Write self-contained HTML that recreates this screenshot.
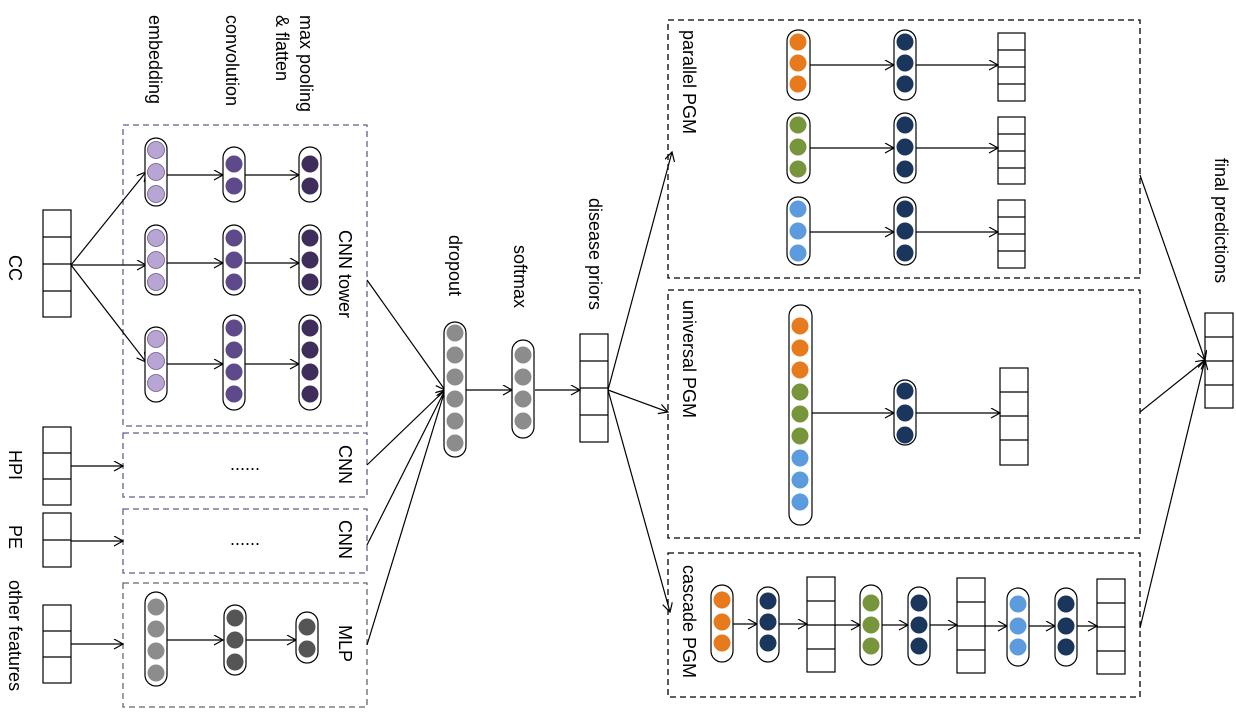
<!DOCTYPE html>
<html><head><meta charset="utf-8"><style>html,body{margin:0;padding:0;background:#fff}svg{display:block}text{font-family:"Liberation Sans",sans-serif;font-size:18px;fill:#000}circle{r:8.5px}</style></head><body>
<svg width="1236" height="719" viewBox="0 0 1236 719" xmlns="http://www.w3.org/2000/svg">
<defs><marker id="a" markerWidth="12" markerHeight="12" refX="10" refY="5" orient="auto" markerUnits="userSpaceOnUse"><path d="M1,0 L10,5 L1,10" fill="none" stroke="#000" stroke-width="1.2"/></marker></defs>
<g fill="none" stroke-dasharray="6,4" stroke-width="1.3">
<rect x="123" y="125" width="244" height="301" stroke="#6a5a8a"/>
<rect x="123" y="433" width="244" height="64" stroke="#6a5a8a"/>
<rect x="123" y="509" width="244" height="64" stroke="#6a5a8a"/>
<rect x="123" y="583" width="244" height="124" stroke="#666"/>
<rect x="668" y="20" width="472" height="258" stroke="#000"/>
<rect x="668" y="290" width="472" height="248" stroke="#000"/>
<rect x="668" y="553" width="472" height="144" stroke="#000"/>
</g>
<g fill="#fff" stroke="#000" stroke-width="1.2">
<rect x="43" y="210" width="28" height="107"/><line x1="43" y1="237" x2="71" y2="237"/><line x1="43" y1="264" x2="71" y2="264"/><line x1="43" y1="291" x2="71" y2="291"/>
<rect x="43" y="427" width="28" height="78"/><line x1="43" y1="453" x2="71" y2="453"/><line x1="43" y1="479" x2="71" y2="479"/>
<rect x="43" y="513" width="28" height="54"/><line x1="43" y1="540" x2="71" y2="540"/>
<rect x="43" y="605" width="28" height="78"/><line x1="43" y1="631" x2="71" y2="631"/><line x1="43" y1="657" x2="71" y2="657"/>
<rect x="580" y="334" width="28" height="108"/><line x1="580" y1="361" x2="608" y2="361"/><line x1="580" y1="388" x2="608" y2="388"/><line x1="580" y1="415" x2="608" y2="415"/>
<rect x="998" y="33" width="27" height="68"/><line x1="998" y1="50" x2="1025" y2="50"/><line x1="998" y1="67" x2="1025" y2="67"/><line x1="998" y1="84" x2="1025" y2="84"/>
<rect x="998" y="117" width="27" height="67"/><line x1="998" y1="134" x2="1025" y2="134"/><line x1="998" y1="151" x2="1025" y2="151"/><line x1="998" y1="168" x2="1025" y2="168"/>
<rect x="998" y="200" width="27" height="68"/><line x1="998" y1="217" x2="1025" y2="217"/><line x1="998" y1="234" x2="1025" y2="234"/><line x1="998" y1="251" x2="1025" y2="251"/>
<rect x="1000" y="368" width="28" height="97"/><line x1="1000" y1="392" x2="1028" y2="392"/><line x1="1000" y1="416" x2="1028" y2="416"/><line x1="1000" y1="440" x2="1028" y2="440"/>
<rect x="807" y="577" width="28" height="95"/><line x1="807" y1="601" x2="835" y2="601"/><line x1="807" y1="625" x2="835" y2="625"/><line x1="807" y1="649" x2="835" y2="649"/>
<rect x="957" y="578" width="28" height="95"/><line x1="957" y1="602" x2="985" y2="602"/><line x1="957" y1="626" x2="985" y2="626"/><line x1="957" y1="650" x2="985" y2="650"/>
<rect x="1097" y="579" width="28" height="95"/><line x1="1097" y1="603" x2="1125" y2="603"/><line x1="1097" y1="627" x2="1125" y2="627"/><line x1="1097" y1="651" x2="1125" y2="651"/>
<rect x="1205" y="313" width="28" height="95"/><line x1="1205" y1="337" x2="1233" y2="337"/><line x1="1205" y1="361" x2="1233" y2="361"/><line x1="1205" y1="385" x2="1233" y2="385"/>
</g>
<g stroke="#000" stroke-width="1.2" fill="none" marker-end="url(#a)">
<line x1="71" y1="265" x2="146" y2="172"/><line x1="71" y1="265" x2="146" y2="265"/><line x1="71" y1="265" x2="146" y2="362"/>
<line x1="167" y1="175" x2="223" y2="175"/><line x1="245" y1="175" x2="299" y2="175"/>
<line x1="167" y1="263" x2="223" y2="263"/><line x1="245" y1="263" x2="299" y2="263"/>
<line x1="167" y1="364" x2="223" y2="364"/><line x1="245" y1="364" x2="299" y2="364"/>
<line x1="71" y1="466" x2="123" y2="466"/><line x1="71" y1="541" x2="123" y2="541"/><line x1="71" y1="644" x2="123" y2="644"/>
<line x1="167" y1="640" x2="223" y2="640"/><line x1="246" y1="640" x2="296" y2="640"/>
<line x1="367" y1="280" x2="445" y2="390"/><line x1="367" y1="465" x2="445" y2="390"/><line x1="367" y1="545" x2="445" y2="390"/><line x1="367" y1="645" x2="445" y2="390"/>
<line x1="466" y1="390" x2="512" y2="390"/><line x1="535" y1="390" x2="580" y2="390"/>
<line x1="608" y1="390" x2="672" y2="152"/><line x1="608" y1="390" x2="668" y2="412"/><line x1="608" y1="390" x2="670" y2="612"/>
<line x1="810" y1="65" x2="894" y2="65"/><line x1="916" y1="65" x2="998" y2="65"/>
<line x1="810" y1="148" x2="894" y2="148"/><line x1="916" y1="148" x2="998" y2="148"/>
<line x1="810" y1="232" x2="894" y2="232"/><line x1="916" y1="232" x2="998" y2="232"/>
<line x1="812" y1="413" x2="894" y2="413"/><line x1="916" y1="413" x2="1000" y2="413"/>
<line x1="733" y1="624" x2="757" y2="624"/><line x1="779" y1="624" x2="807" y2="624"/><line x1="835" y1="625" x2="860" y2="625"/><line x1="882" y1="625" x2="908" y2="625"/><line x1="930" y1="625" x2="957" y2="625"/><line x1="985" y1="626" x2="1007" y2="626"/><line x1="1029" y1="626" x2="1055" y2="626"/><line x1="1077" y1="626" x2="1097" y2="626"/>
<line x1="1140" y1="175" x2="1205" y2="360"/><line x1="1140" y1="412" x2="1205" y2="360"/><line x1="1140" y1="628" x2="1205" y2="360"/>
</g>
<g fill="#fff" stroke="#000" stroke-width="1.2">
<rect x="145" y="138" width="22" height="68" rx="11"/><rect x="145" y="225" width="22" height="70" rx="11"/><rect x="145" y="327" width="22" height="75" rx="11"/>
<rect x="223" y="147" width="22" height="55" rx="11"/><rect x="223" y="225" width="22" height="70" rx="11"/><rect x="223" y="315" width="22" height="95" rx="11"/>
<rect x="299" y="147" width="22" height="55" rx="11"/><rect x="299" y="225" width="22" height="70" rx="11"/><rect x="299" y="315" width="22" height="95" rx="11"/>
<rect x="145" y="592" width="22" height="94" rx="11"/><rect x="224" y="605" width="22" height="70" rx="11"/><rect x="296" y="612" width="22" height="51" rx="11"/>
<rect x="444" y="322" width="22" height="135" rx="11"/><rect x="512" y="340" width="22" height="98" rx="11"/>
<rect x="787" y="30" width="23" height="70" rx="11"/><rect x="894" y="30" width="22" height="70" rx="11"/>
<rect x="787" y="113" width="23" height="70" rx="11"/><rect x="894" y="113" width="22" height="70" rx="11"/>
<rect x="787" y="197" width="23" height="68" rx="11"/><rect x="894" y="197" width="22" height="68" rx="11"/>
<rect x="789" y="305" width="23" height="220" rx="11"/><rect x="894" y="380" width="22" height="65" rx="11"/>
<rect x="711" y="585" width="22" height="77" rx="11"/><rect x="757" y="587" width="22" height="75" rx="11"/>
<rect x="860" y="585" width="22" height="80" rx="11"/><rect x="908" y="587" width="22" height="78" rx="11"/>
<rect x="1007" y="588" width="22" height="78" rx="11"/><rect x="1055" y="588" width="22" height="78" rx="11"/>
</g>
<g fill="#b8a5d4" stroke="#6a5a8a" stroke-width="0.8">
<circle cx="156" cy="150" r="8.5"/><circle cx="156" cy="172" r="8.5"/><circle cx="156" cy="194" r="8.5"/>
<circle cx="156" cy="238" r="8.5"/><circle cx="156" cy="260" r="8.5"/><circle cx="156" cy="282" r="8.5"/>
<circle cx="156" cy="339" r="8.5"/><circle cx="156" cy="361" r="8.5"/><circle cx="156" cy="383" r="8.5"/>
</g>
<g fill="#5e4a8a"><circle cx="234" cy="164" r="8.5"/><circle cx="234" cy="186" r="8.5"/><circle cx="234" cy="238" r="8.5"/><circle cx="234" cy="260" r="8.5"/><circle cx="234" cy="282" r="8.5"/><circle cx="234" cy="328" r="8.5"/><circle cx="234" cy="350" r="8.5"/><circle cx="234" cy="372" r="8.5"/><circle cx="234" cy="394" r="8.5"/></g>
<g fill="#3f2e5c"><circle cx="310" cy="164" r="8.5"/><circle cx="310" cy="186" r="8.5"/><circle cx="310" cy="238" r="8.5"/><circle cx="310" cy="260" r="8.5"/><circle cx="310" cy="282" r="8.5"/><circle cx="310" cy="328" r="8.5"/><circle cx="310" cy="350" r="8.5"/><circle cx="310" cy="372" r="8.5"/><circle cx="310" cy="394" r="8.5"/></g>
<g fill="#8c8c8c"><circle cx="156" cy="607" r="8.5"/><circle cx="156" cy="629" r="8.5"/><circle cx="156" cy="651" r="8.5"/><circle cx="156" cy="673" r="8.5"/>
<circle cx="455" cy="333" r="8.5"/><circle cx="455" cy="355" r="8.5"/><circle cx="455" cy="377" r="8.5"/><circle cx="455" cy="399" r="8.5"/><circle cx="455" cy="421" r="8.5"/><circle cx="455" cy="443" r="8.5"/>
<circle cx="523" cy="355" r="8.5"/><circle cx="523" cy="377" r="8.5"/><circle cx="523" cy="399" r="8.5"/><circle cx="523" cy="421" r="8.5"/></g>
<g fill="#555"><circle cx="235" cy="618" r="8.5"/><circle cx="235" cy="640" r="8.5"/><circle cx="235" cy="662" r="8.5"/><circle cx="307" cy="627" r="8.5"/><circle cx="307" cy="649" r="8.5"/></g>
<g fill="#e87a1e"><circle cx="798" cy="42" r="8.5"/><circle cx="798" cy="63" r="8.5"/><circle cx="798" cy="84" r="8.5"/><circle cx="800" cy="326" r="8.5"/><circle cx="800" cy="348" r="8.5"/><circle cx="800" cy="370" r="8.5"/><circle cx="722" cy="600" r="8.5"/><circle cx="722" cy="622" r="8.5"/><circle cx="722" cy="643" r="8.5"/></g>
<g fill="#77963c"><circle cx="798" cy="125" r="8.5"/><circle cx="798" cy="147" r="8.5"/><circle cx="798" cy="169" r="8.5"/><circle cx="800" cy="392" r="8.5"/><circle cx="800" cy="414" r="8.5"/><circle cx="800" cy="436" r="8.5"/><circle cx="871" cy="603" r="8.5"/><circle cx="871" cy="625" r="8.5"/><circle cx="871" cy="646" r="8.5"/></g>
<g fill="#5b9bde"><circle cx="798" cy="209" r="8.5"/><circle cx="798" cy="231" r="8.5"/><circle cx="798" cy="253" r="8.5"/><circle cx="800" cy="458" r="8.5"/><circle cx="800" cy="480" r="8.5"/><circle cx="800" cy="502" r="8.5"/><circle cx="1018" cy="604" r="8.5"/><circle cx="1018" cy="626" r="8.5"/><circle cx="1018" cy="647" r="8.5"/></g>
<g fill="#1b365d"><circle cx="905" cy="42" r="8.5"/><circle cx="905" cy="63" r="8.5"/><circle cx="905" cy="84" r="8.5"/><circle cx="905" cy="125" r="8.5"/><circle cx="905" cy="147" r="8.5"/><circle cx="905" cy="169" r="8.5"/><circle cx="905" cy="209" r="8.5"/><circle cx="905" cy="231" r="8.5"/><circle cx="905" cy="253" r="8.5"/><circle cx="905" cy="391" r="8.5"/><circle cx="905" cy="413" r="8.5"/><circle cx="905" cy="435" r="8.5"/>
<circle cx="768" cy="601" r="8.5"/><circle cx="768" cy="622" r="8.5"/><circle cx="768" cy="643" r="8.5"/><circle cx="919" cy="603" r="8.5"/><circle cx="919" cy="625" r="8.5"/><circle cx="919" cy="646" r="8.5"/><circle cx="1066" cy="604" r="8.5"/><circle cx="1066" cy="626" r="8.5"/><circle cx="1066" cy="647" r="8.5"/></g>
<text transform="translate(149,15) rotate(90)">embedding</text>
<text transform="translate(226,15) rotate(90)">convolution</text>
<text transform="translate(300,15) rotate(90)">max pooling</text>
<text transform="translate(276,15) rotate(90)">&amp; flatten</text>
<text transform="translate(339,230) rotate(90)">CNN tower</text>
<text transform="translate(9,255) rotate(90)">CC</text>
<text transform="translate(9,450) rotate(90)">HPI</text>
<text transform="translate(9,525) rotate(90)">PE</text>
<text transform="translate(9,580) rotate(90)">other features</text>
<text transform="translate(339,445) rotate(90)">CNN</text>
<text transform="translate(339,520) rotate(90)">CNN</text>
<text transform="translate(339,625) rotate(90)">MLP</text>
<text x="230" y="470">......</text>
<text x="230" y="545">......</text>
<text transform="translate(449,235) rotate(90)">dropout</text>
<text transform="translate(514,245) rotate(90)">softmax</text>
<text transform="translate(589,198) rotate(90)">disease priors</text>
<text transform="translate(683,30) rotate(90)">parallel PGM</text>
<text transform="translate(683,300) rotate(90)">universal PGM</text>
<text transform="translate(683,565) rotate(90)">cascade PGM</text>
<text transform="translate(1215,158) rotate(90)">final predictions</text>
</svg>
</body></html>
